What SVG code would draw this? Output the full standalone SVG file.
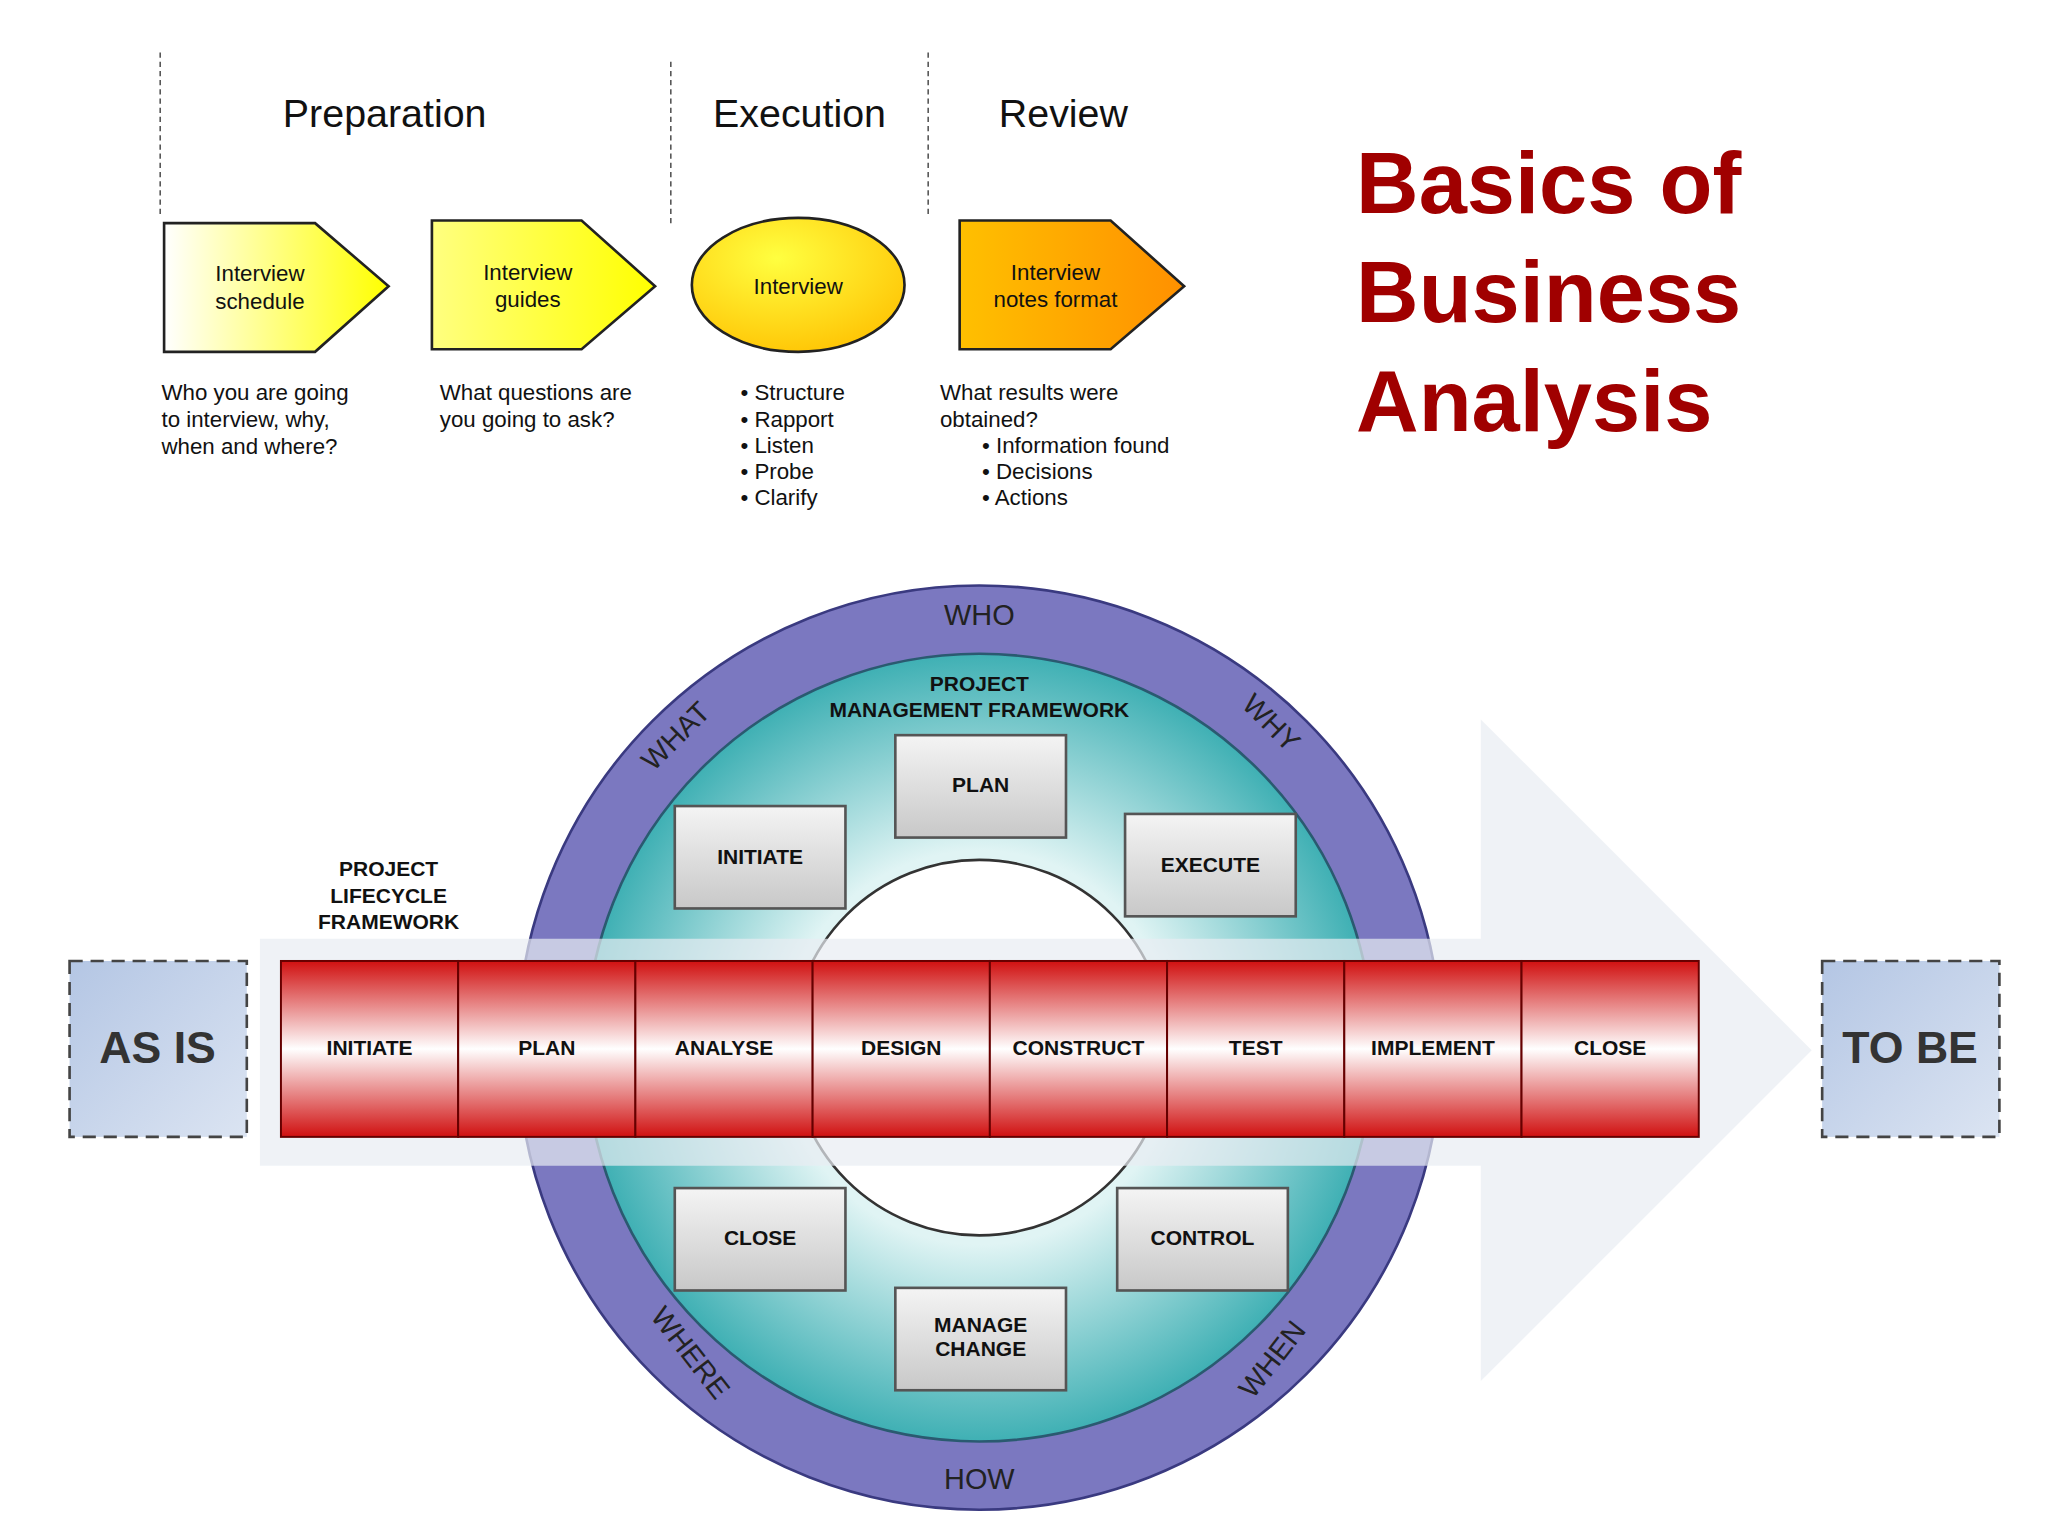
<svg xmlns="http://www.w3.org/2000/svg" width="2048" height="1536" viewBox="0 0 2048 1536">
<defs>
<linearGradient id="g1" x1="0" x2="1"><stop offset="0" stop-color="#ffffff"/><stop offset="1" stop-color="#ffff00"/></linearGradient>
<linearGradient id="g2" x1="0" x2="1"><stop offset="0" stop-color="#ffff80"/><stop offset="1" stop-color="#ffff00"/></linearGradient>
<radialGradient id="g3" cx="0.4" cy="0.3" r="0.8"><stop offset="0" stop-color="#ffff40"/><stop offset="1" stop-color="#ffc000"/></radialGradient>
<linearGradient id="g4" x1="0" x2="1"><stop offset="0" stop-color="#ffc000"/><stop offset="1" stop-color="#ff9000"/></linearGradient>
<linearGradient id="red" x1="0" y1="0" x2="0" y2="1"><stop offset="0" stop-color="#d01010"/><stop offset="0.5" stop-color="#ffffff"/><stop offset="1" stop-color="#d01010"/></linearGradient>
<linearGradient id="gray" x1="0" y1="0" x2="0" y2="1"><stop offset="0" stop-color="#f4f4f4"/><stop offset="1" stop-color="#c8c8c8"/></linearGradient>
<linearGradient id="blue" x1="0" y1="0" x2="1" y2="1"><stop offset="0" stop-color="#b4c6e4"/><stop offset="1" stop-color="#dbe4f2"/></linearGradient>
<radialGradient id="teal"><stop offset="0.5" stop-color="#e0f4f4"/><stop offset="1" stop-color="#3fb0b4"/></radialGradient>
<style>
.t{font-family:"Liberation Sans",Arial,sans-serif;fill:#111}
.h{font-size:30px;text-anchor:middle}
.s{font-size:17px}
.c{text-anchor:middle}
.b{font-weight:bold;font-size:16px;text-anchor:middle}
.box{fill:url(#gray);stroke:#555;stroke-width:2}
.ring{font-family:"Liberation Sans",Arial,sans-serif;font-size:22px;fill:#222;text-anchor:middle}
.seg{fill:url(#red);stroke:#600;stroke-width:1.5}
.dash{stroke:#333;stroke-dasharray:4 3;stroke-width:1}
</style>
</defs>
<rect width="2048" height="1536" fill="#fff"/>
<g transform="scale(1.3128)">
<g id="phases">
<line class="dash" x1="122" y1="40" x2="122" y2="165"/>
<line class="dash" x1="511" y1="47" x2="511" y2="172"/>
<line class="dash" x1="707" y1="40" x2="707" y2="165"/>
<text class="t h" x="293" y="97">Preparation</text>
<text class="t h" x="609" y="97">Execution</text>
<text class="t h" x="810" y="97">Review</text>
</g>
<g id="n1"><polygon points="125,170 240,170 296,218 240,268 125,268" fill="url(#g1)" stroke="#222" stroke-width="2"/>
<text class="t s c" x="198" y="214">Interview</text><text class="t s c" x="198" y="235">schedule</text>
<text class="t s" x="123" y="305">Who you are going</text><text class="t s" x="123" y="325">to interview, why,</text><text class="t s" x="123" y="346">when and where?</text></g>
<g id="n2"><polygon points="329,168 443,168 499,218 443,266 329,266" fill="url(#g2)" stroke="#222" stroke-width="2"/>
<text class="t s c" x="402" y="213">Interview</text><text class="t s c" x="402" y="234">guides</text>
<text class="t s" x="335" y="305">What questions are</text><text class="t s" x="335" y="325">you going to ask?</text></g>
<g id="n3"><ellipse cx="608" cy="217" rx="81" ry="51" fill="url(#g3)" stroke="#222" stroke-width="2"/>
<text class="t s c" x="608" y="224">Interview</text>
<text class="t s" x="564" y="305">• Structure</text><text class="t s" x="564" y="325">• Rapport</text><text class="t s" x="564" y="345">• Listen</text><text class="t s" x="564" y="365">• Probe</text><text class="t s" x="564" y="385">• Clarify</text></g>
<g id="n4"><polygon points="731,168 846,168 902,218 846,266 731,266" fill="url(#g4)" stroke="#222" stroke-width="2"/>
<text class="t s c" x="804" y="213">Interview</text><text class="t s c" x="804" y="234">notes format</text>
<text class="t s" x="716" y="305">What results were</text><text class="t s" x="716" y="325">obtained?</text><text class="t s" x="748" y="345">• Information found</text><text class="t s" x="748" y="365">• Decisions</text><text class="t s" x="748" y="385">• Actions</text></g>
<g id="title" font-family="Liberation Sans,Arial,sans-serif" font-weight="bold" font-size="66" fill="#a00000">
<text x="1033" y="162">Basics of</text><text x="1033" y="245">Business</text><text x="1033" y="328">Analysis</text></g>
<g id="circle">
<circle cx="746" cy="798" r="352" fill="#7b78c0" stroke="#3a3a80" stroke-width="2"/>
<circle cx="746" cy="798" r="300" fill="url(#teal)" stroke="#2a5a70" stroke-width="2"/>
<circle cx="746" cy="798" r="143" fill="#fff" stroke="#333" stroke-width="2"/>
<text class="ring" x="746" y="476">WHO</text>
<text class="ring" x="746" y="1134">HOW</text>
<text class="ring" transform="translate(520,566) rotate(-45)">WHAT</text>
<text class="ring" transform="translate(963,556) rotate(45)">WHY</text>
<text class="ring" transform="translate(520,1035) rotate(52)">WHERE</text>
<text class="ring" transform="translate(975,1040) rotate(-52)">WHEN</text>
<text class="t b" x="746" y="526">PROJECT</text><text class="t b" x="746" y="546">MANAGEMENT FRAMEWORK</text>
</g>
<g id="pm">
<rect class="box" x="682" y="560" width="130" height="78"/><text class="t b" x="747" y="603">PLAN</text>
<rect class="box" x="514" y="614" width="130" height="78"/><text class="t b" x="579" y="658">INITIATE</text>
<rect class="box" x="857" y="620" width="130" height="78"/><text class="t b" x="922" y="664">EXECUTE</text>
<rect class="box" x="514" y="905" width="130" height="78"/><text class="t b" x="579" y="948">CLOSE</text>
<rect class="box" x="851" y="905" width="130" height="78"/><text class="t b" x="916" y="948">CONTROL</text>
<rect class="box" x="682" y="981" width="130" height="78"/><text class="t b" x="747" y="1015">MANAGE</text><text class="t b" x="747" y="1033">CHANGE</text>
</g>
<g id="connectors">
<polygon points="198,715 1128,715 1128,548 1380,800 1128,1052 1128,888 198,888" fill="#e8ecf2" opacity="0.7"/>
</g>
<g id="lifecycle">
<text class="t b" x="296" y="667">PROJECT</text><text class="t b" x="296" y="688">LIFECYCLE</text><text class="t b" x="296" y="708">FRAMEWORK</text>
<rect class="seg" x="214" y="732" width="135" height="134"/><text class="t b" x="281.5" y="804">INITIATE</text>
<rect class="seg" x="349" y="732" width="135" height="134"/><text class="t b" x="416.5" y="804">PLAN</text>
<rect class="seg" x="484" y="732" width="135" height="134"/><text class="t b" x="551.5" y="804">ANALYSE</text>
<rect class="seg" x="619" y="732" width="135" height="134"/><text class="t b" x="686.5" y="804">DESIGN</text>
<rect class="seg" x="754" y="732" width="135" height="134"/><text class="t b" x="821.5" y="804">CONSTRUCT</text>
<rect class="seg" x="889" y="732" width="135" height="134"/><text class="t b" x="956.5" y="804">TEST</text>
<rect class="seg" x="1024" y="732" width="135" height="134"/><text class="t b" x="1091.5" y="804">IMPLEMENT</text>
<rect class="seg" x="1159" y="732" width="135" height="134"/><text class="t b" x="1226.5" y="804">CLOSE</text>
</g>
<g id="asis"><rect x="53" y="732" width="135" height="134" fill="url(#blue)" stroke="#444" stroke-width="2" stroke-dasharray="10 6"/>
<text x="120" y="810" text-anchor="middle" font-family="Liberation Sans,Arial,sans-serif" font-weight="bold" font-size="34" fill="#333">AS IS</text></g>
<g id="tobe"><rect x="1388" y="732" width="135" height="134" fill="url(#blue)" stroke="#444" stroke-width="2" stroke-dasharray="10 6"/>
<text x="1455" y="810" text-anchor="middle" font-family="Liberation Sans,Arial,sans-serif" font-weight="bold" font-size="34" fill="#333">TO BE</text></g>
</g>
</svg>
